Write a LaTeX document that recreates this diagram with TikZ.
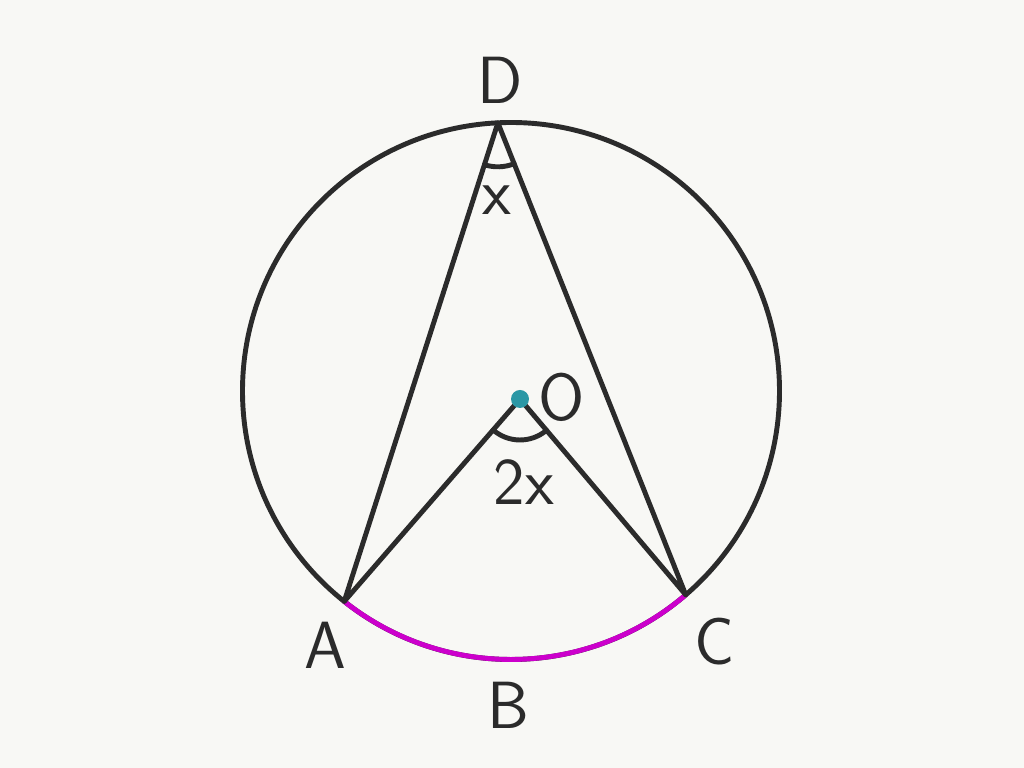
\documentclass[tikz,border=0pt]{standalone}
\usepackage{amsmath}
\usepackage{tikz}
\usetikzlibrary{calc}
\definecolor{ink}{HTML}{2B2B2B}
\definecolor{paper}{HTML}{F8F8F5}
\definecolor{arcpink}{HTML}{CC00CC}
\definecolor{dotteal}{HTML}{2A97A5}
\begin{document}
\begin{tikzpicture}[line width=2.8pt, ink, line join=round, line cap=round,
    lbl/.style={font=\sffamily\fontsize{38}{44}\selectfont, text=ink}]
      \def\R{5.37}
      \fill[paper] (0,0) rectangle (20.48,15.36);
      \useasboundingbox (0,0) rectangle (20.48,15.36);
      \coordinate (c) at (10.22,7.54);
      \coordinate (O) at (10.40,7.38);
      \coordinate (A) at ($(c)+(231.6:\R)$);
      \coordinate (C) at ($(c)+(310.6:\R)$);
      \coordinate (D) at ($(c)+(92.8:\R)$);
      \draw (c) circle (\R);
      \draw[arcpink] (A) arc (231.6:310.6:\R);
      \draw (A) -- (D) -- (C) (A) -- (O) -- (C);
      % angle marks
      \draw ($(D)+(252.2:0.88)$) arc (252.2:291.7:0.88);
      \draw ($(O)+(229.1:0.82)$) arc (229.1:310.3:0.82);
      \fill[dotteal] (O) circle (0.18);
      \node[lbl] (labD) at (10.0,13.76) {D};
      \node[lbl] (labx) at (9.94,11.36) {x};
      \node[lbl] (labO) at (11.24,7.42) {O};
      \node[lbl] (lab2x) at (10.48,5.72) {2x};
      \node[lbl] (labA) at (6.5,2.46) {A};
      \node[lbl] (labC) at (14.3,2.52) {C};
      \node[lbl] (labB) at (10.16,1.26) {B};
\end{tikzpicture}
\end{document}
